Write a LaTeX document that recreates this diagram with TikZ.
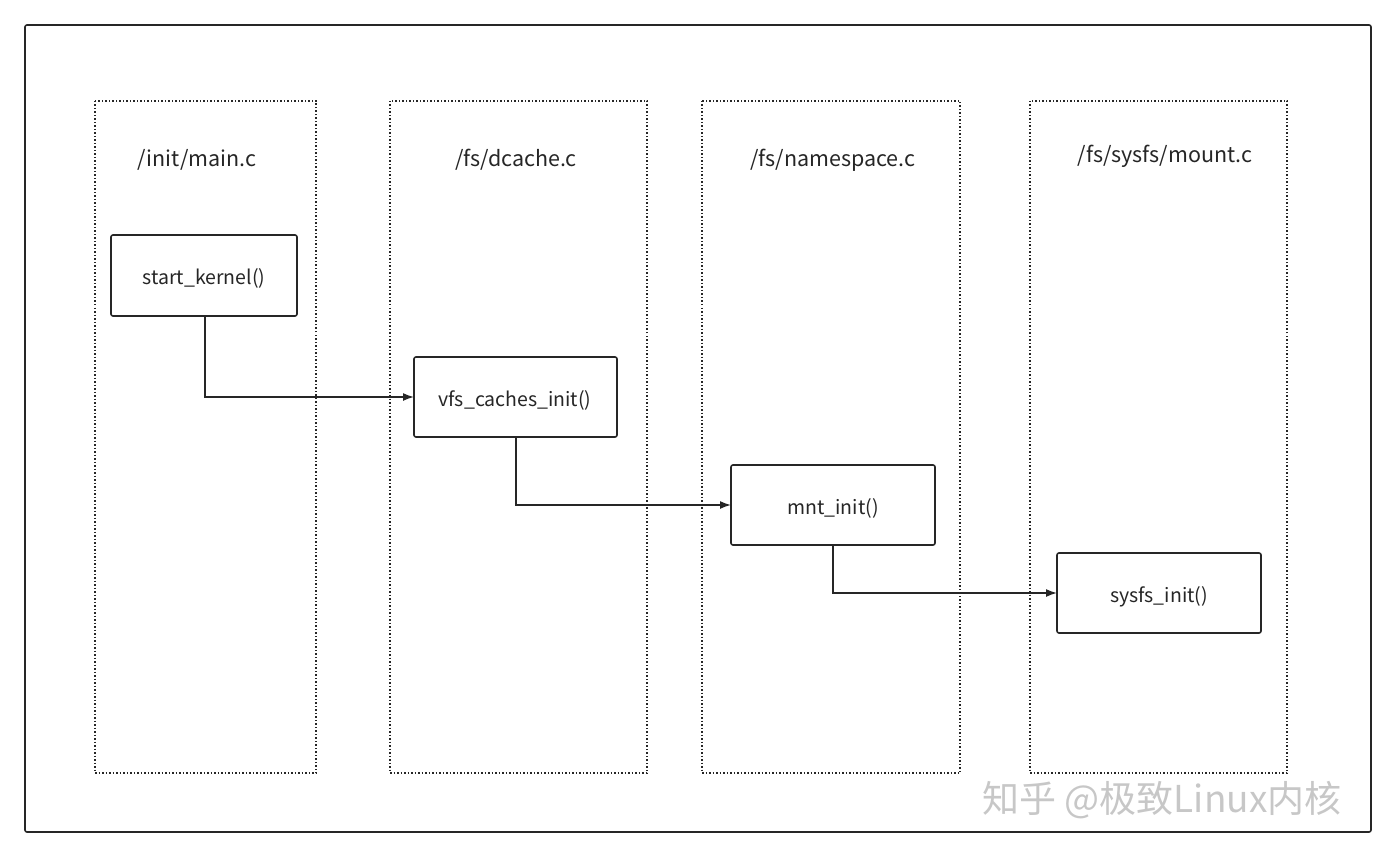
\documentclass[tikz,border=0pt]{standalone}
\usepackage{fontspec}
\setmainfont{Noto Sans CJK SC}
\usetikzlibrary{arrows.meta}
\begin{document}
\begin{tikzpicture}[x=1pt,y=-1pt,
  col/.style={draw=black!85,dotted,line width=1.5pt},
  fn/.style={draw=black!85,line width=1.6pt,rounded corners=2pt,fill=white},
  lbl/.style={font=\fontsize{19.5}{22}\selectfont,text=black!85},
  ttl/.style={font=\fontsize{21.5}{24}\selectfont,text=black!85},
  conn/.style={draw=black!85,line width=1.5pt,-{Latex[length=11pt,width=8pt]}}]
\useasboundingbox (0,0) rectangle (1396,858);
\draw[black!85,line width=1.6pt,rounded corners=2pt] (25,25) rectangle (1371,832);
\draw[col] (95,101) rectangle (316,773);
\draw[col] (390,101) rectangle (647,773);
\draw[col] (702,101) rectangle (960,773);
\draw[col] (1030,101) rectangle (1287,773);
\node[ttl] (t1) at (197,160) {/init/main.c};
\node[ttl] (t2) at (516,160) {/fs/dcache.c};
\node[ttl] (t3) at (833,160) {/fs/namespace.c};
\node[ttl] (t4) at (1165,156) {/fs/sysfs/mount.c};
\draw[fn] (111,235) rectangle (297,316);
\node[lbl] (a) at (204,278) {start\_kernel()};
\draw[fn] (414,357) rectangle (617,437);
\node[lbl] (b) at (515,400) {vfs\_caches\_init()};
\draw[fn] (731,465) rectangle (935,545);
\node[lbl] (c) at (833,508) {mnt\_init()};
\draw[fn] (1057,553) rectangle (1261,633);
\node[lbl] (d) at (1159,597) {sysfs\_init()};
\coordinate (aS) at (205,316); \coordinate (bW) at (414,397);
\coordinate (bS) at (516,437); \coordinate (cW) at (731,505);
\coordinate (cS) at (833,545); \coordinate (dW) at (1057,593);
\draw[conn] (aS) |- (bW);
\draw[conn] (bS) |- (cW);
\draw[conn] (cS) |- (dW);
\node[text=black!22,font=\fontsize{37}{40}\selectfont] (wm) at (1162,800) {知乎 @极致Linux内核};
\end{tikzpicture}
\end{document}
